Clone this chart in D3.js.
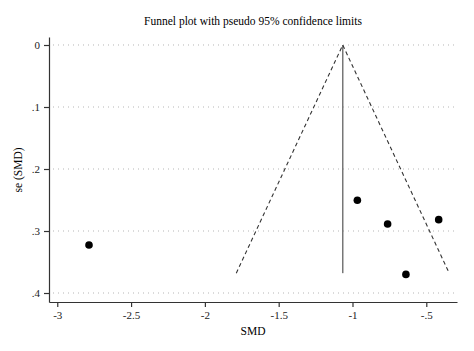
<!DOCTYPE html>
<html lang="en">
<head>
<meta charset="utf-8" />
<title>Funnel plot</title>
<style>
  body { margin: 0; background: #fff; }
  .axis text { font: 11px "Liberation Serif", serif; fill: #222; }
  .axis path, .axis line { fill: none; stroke: #333; stroke-width: 1.2px; }
</style>
</head>
<body>
<div id="graph"></div>
<script src="https://d3js.org/d3.v7.min.js"></script>
<script>
// study estimates
var smd = [-2.785, -0.967, -0.762, -0.416, -0.638];
var se  = [0.3226, 0.2505, 0.2887, 0.2817, 0.370];
var pooled = -1.066;
var seMax = 0.368;

var xTicks = [-3, -2.5, -2, -1.5, -1, -0.5];
var yTicks = [0, 0.1, 0.2, 0.3, 0.4];

var width = 474, height = 351;
var plotLeft = 49, plotRight = 457, plotTop = 37, plotBottom = 302;

var x = d3.scaleLinear().domain([-3.056, -0.292]).range([plotLeft, plotRight]);
var y = d3.scaleLinear().domain([-0.0129, 0.4145]).range([plotTop, plotBottom]);

var fmt = function (d) {
    if (d === 0) return "0";
    return String(d).replace("0.", ".");
};

var svg = d3.select("#graph").append("svg")
    .attr("width", width)
    .attr("height", height);

// dotted grid
svg.selectAll(".grid")
    .data(yTicks)
    .enter()
    .append("line")
    .attr("class", "grid")
    .attr("x1", plotLeft + 4)
    .attr("x2", plotRight)
    .attr("y1", function (d) { return y(d); })
    .attr("y2", function (d) { return y(d); })
    .style("stroke", "#b5b5b5")
    .style("stroke-width", 1)
    .style("stroke-dasharray", "1,4");

svg.append("g")
    .attr("class", "axis")
    .attr("transform", "translate(0," + plotBottom + ")")
    .call(d3.axisBottom(x).tickValues(xTicks).tickSizeInner(5).tickSizeOuter(0).tickPadding(4).tickFormat(fmt));

svg.append("g")
    .attr("class", "axis")
    .attr("transform", "translate(" + plotLeft + ",0)")
    .call(d3.axisLeft(y).tickValues(yTicks).tickSizeInner(5).tickSizeOuter(0).tickPadding(4).tickFormat(fmt));

// pooled estimate line
svg.append("line")
    .attr("x1", x(pooled)).attr("x2", x(pooled))
    .attr("y1", y(0)).attr("y2", y(seMax))
    .style("stroke", "#777")
    .style("stroke-width", 1.5);

// pseudo 95% limits
var funnel = [[pooled - 1.96 * seMax, seMax], [pooled, 0], [pooled + 1.96 * seMax, seMax]];
svg.append("path")
    .attr("d", d3.line().x(function (d) { return x(d[0]); }).y(function (d) { return y(d[1]); })(funnel))
    .style("fill", "none")
    .style("stroke", "#333")
    .style("stroke-width", 1.1)
    .style("stroke-dasharray", "4,3");

svg.selectAll(".pt")
    .data(smd)
    .enter()
    .append("circle")
    .attr("class", "pt")
    .attr("cx", function (d) { return x(d); })
    .attr("cy", function (d, i) { return y(se[i]); })
    .attr("r", 3.8)
    .style("fill", "#000");

svg.append("text")
    .attr("x", 253).attr("y", 25)
    .attr("text-anchor", "middle")
    .style("font", "11.5px 'Liberation Serif', serif")
    .text("Funnel plot with pseudo 95% confidence limits");

svg.append("text")
    .attr("x", 253).attr("y", 335)
    .attr("text-anchor", "middle")
    .style("font", "11.5px 'Liberation Serif', serif")
    .text("SMD");

svg.append("text")
    .attr("transform", "translate(22,170) rotate(-90)")
    .attr("text-anchor", "middle")
    .style("font", "11.5px 'Liberation Serif', serif")
    .text("se (SMD)");
</script>
</body>
</html>
